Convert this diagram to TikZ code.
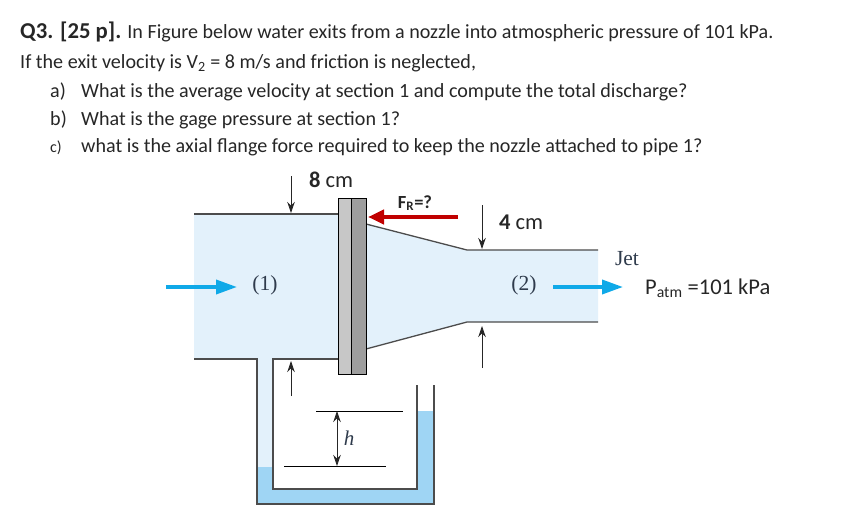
\documentclass[tikz,border=0pt]{standalone}
\usepackage{fontspec}
\setmainfont{Carlito}
\newfontfamily\figfont{Liberation Serif}
\usepackage{xcolor}
\usetikzlibrary{positioning,calc,arrows.meta}
\definecolor{flowblue}{HTML}{E3F1FB}
\definecolor{gaugeblue}{HTML}{9FD5F4}
\definecolor{jetblue}{HTML}{0FA9E8}
\definecolor{forcered}{HTML}{C00000}
\definecolor{labelblue}{HTML}{2F3B4C}
\tikzset{
    qtext/.style={anchor=base west, inner sep=0pt, font=\fontsize{20.1}{22}\selectfont, text=black!85},
    figlabel/.style={inner sep=0pt, font=\figfont\fontsize{21.5}{22}\selectfont, text=labelblue},
    dimtext/.style={inner sep=0pt, font=\fontsize{22.5}{24}\selectfont, text=black!85},
    wall/.style={draw=black!70, line width=1.3pt},
    dimarrow/.style={-{Stealth[length=11pt,width=7.5pt]}, line width=0.9pt, black!85},
    jetarrow/.style={-{Triangle[length=21pt,width=14pt]}, line width=3.6pt, jetblue},
}
\begin{document}
\begin{tikzpicture}[x=1pt,y=-1pt]
    \useasboundingbox (0,0) rectangle (845,519);

    % Question text
    \node[qtext] at (20,39) (q1) {\textbf{\fontsize{22.7}{24}\selectfont Q3. [25 p].} In Figure below water exits from a nozzle into atmospheric pressure of 101 kPa.};
    \node[qtext] at (20,68) (q2) {If the exit velocity is V\textsubscript{2} = 8 m/s and friction is neglected,};
    \node[qtext] at (50,97) (qa) {a)};
    \node[qtext] at (81,97) (qat) {What is the average velocity at section 1 and compute the total discharge?};
    \node[qtext] at (50,125) (qb) {b)};
    \node[qtext] at (81,125) (qbt) {What is the gage pressure at section 1?};
    \node[qtext, font=\fontsize{16}{17}\selectfont] at (50,152) (qc) {c)};
    \node[qtext] at (81,152) (qct) {what is the axial flange force required to keep the nozzle attached to pipe 1?};

    % Water in pipe, nozzle and tube
    \fill[flowblue] (194,214) -- (338,214) -- (366,224) -- (467,250) -- (598,250) -- (598,322) -- (467,322) -- (366,349) -- (338,359) -- (273,359) -- (273,467) -- (257,467) -- (257,359) -- (194,359) -- cycle;

    % Gauge liquid
    \fill[gaugeblue] (257,467) -- (273,467) -- (273,489) -- (417,489) -- (417,411) -- (434,411) -- (434,504) -- (257,504) -- cycle;

    % Walls
    \draw[wall] (194,214) -- (338,214);
    \draw[wall] (366,224) -- (467,250) -- (598,250);
    \draw[wall] (366,349) -- (467,322) -- (598,322);
    \draw[wall] (194,359) -- (257,359) -- (257,504) -- (434,504) -- (434,385);
    \draw[wall] (338,359) -- (273,359) -- (273,489) -- (417,489) -- (417,385);

    % Flange
    \node[draw, line width=0.9pt, fill=black!22, minimum width=13pt, minimum height=176pt, inner sep=0pt] at (344.5,286) (flangeL) {};
    \node[draw, line width=0.9pt, fill=black!38, minimum width=15pt, minimum height=176pt, inner sep=0pt, right=-0.9pt of flangeL] (flangeR) {};

    % Level lines
    \coordinate (u1) at (316,411);
    \coordinate (u2) at (403,411);
    \coordinate (l1) at (284,466);
    \coordinate (l2) at (386,466);
    \draw[line width=0.8pt] (u1) -- (u2);
    \draw[line width=0.8pt] (l1) -- (l2);
    \coordinate (hT) at (337,411);
    \coordinate (hB) at (337,466);
    \draw[{Stealth[length=11pt,width=7.5pt]}-{Stealth[length=11pt,width=7.5pt]}, line width=0.9pt, black!85] (hT) -- (hB);
    \node[figlabel, font=\figfont\itshape\fontsize{21}{22}\selectfont] at (349,438) (hlab) {h};

    % Dimension arrows
    \coordinate (d8a) at (291,176);
    \coordinate (d8b) at (291,213);
    \coordinate (d8c) at (291,396);
    \coordinate (d8d) at (291,361);
    \coordinate (d4a) at (482,205);
    \coordinate (d4b) at (482,249);
    \coordinate (d4c) at (482,368);
    \coordinate (d4d) at (482,326);
    \draw[dimarrow] (d8a) -- (d8b);
    \draw[dimarrow] (d8c) -- (d8d);
    \draw[dimarrow] (d4a) -- (d4b);
    \draw[dimarrow] (d4c) -- (d4d);
    \node[dimtext] at (331,180) (d8lab) {\textbf{8} cm};
    \node[dimtext] at (521,222) (d4lab) {\textbf{4} cm};

    % Flow arrows
    \coordinate (inA) at (166,287);
    \coordinate (inB) at (237,287);
    \coordinate (outA) at (553,287);
    \coordinate (outB) at (623,287);
    \draw[jetarrow] (inA) -- (inB);
    \draw[jetarrow] (outA) -- (outB);
    \node[figlabel] at (265,285) (sec1) {(1)};
    \node[figlabel] at (524,285) (sec2) {(2)};
    \node[figlabel] at (627,259) (jet) {Jet};
    \node[inner sep=0pt, anchor=west, font=\fontsize{22.5}{24}\selectfont, text=black!85] at (645,288) (patm) {P\textsubscript{atm} =101 kPa};

    % Force
    \coordinate (fA) at (458,217);
    \coordinate (fB) at (368,217);
    \draw[-{Triangle[length=16pt,width=14pt]}, line width=4.5pt, forcered] (fA) -- (fB);
    \node[inner sep=0pt, font=\bfseries\fontsize{18.5}{19}\selectfont, text=black!85] at (415,203) (frlab) {F\textsubscript{R}=?};
\end{tikzpicture}
\end{document}
